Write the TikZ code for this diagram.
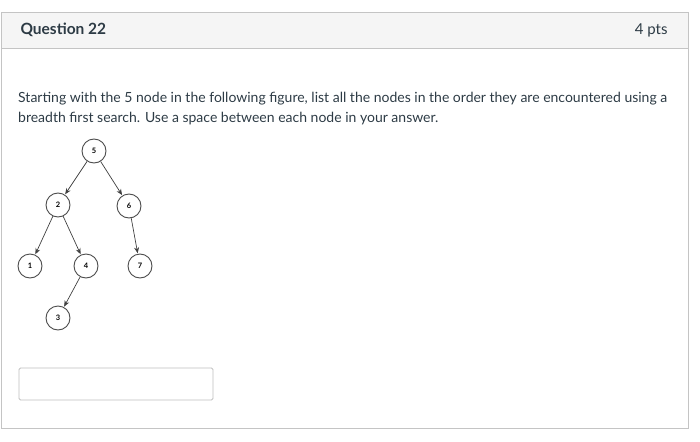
\documentclass[tikz,border=0pt]{standalone}
\usepackage{fontspec}
\setmainfont{Lato}
\usetikzlibrary{arrows.meta}
\definecolor{framegray}{HTML}{C4C4C4}
\definecolor{headgray}{HTML}{F5F5F5}
\definecolor{textgray}{HTML}{2D3B45}
\tikzset{
  vertex/.style={draw=black!70, line width=0.9pt, circle, minimum size=24pt, inner sep=0pt, font=\fontsize{7.5}{8}\selectfont\bfseries},
  edge/.style={-{Stealth[length=6pt,width=5pt]}, black!75, line width=0.7pt, shorten >=0.5pt}
}
\begin{document}
\begin{tikzpicture}[x=1pt,y=-1pt]
  \useasboundingbox (0,0) rectangle (700,441);

  % question frame and header
  \fill[headgray] (1,12) rectangle (688,48);
  \draw[framegray] (1,12) rectangle (688,428);
  \draw[framegray] (1,48) -- (688,48);
  \node[anchor=west, text=textgray, font=\fontsize{15.5}{18}\selectfont\bfseries] (title) at (17,30) {Question 22};
  \node[anchor=east, text=textgray, font=\fontsize{15}{18}\selectfont] (points) at (671,30) {4 pts};

  % question text
  \node[anchor=west, text=textgray, font=\fontsize{14}{16}\selectfont, inner sep=0pt] (line1) at (18,99)
    {Starting with the 5 node in the following figure, list all the nodes in the order they are encountered using a};
  \node[anchor=west, text=textgray, font=\fontsize{14}{16}\selectfont, inner sep=0pt] (line2) at (18,119)
    {breadth first search. Use a space between each node in your answer.};

  % the tree
  \node[vertex] (n5) at (94,151) {5};
  \node[vertex] (n2) at (58,205) {2};
  \node[vertex] (n6) at (129,206) {6};
  \node[vertex] (n1) at (30,266) {1};
  \node[vertex] (n4) at (86,266) {4};
  \node[vertex] (n7) at (140,266) {7};
  \node[vertex] (n3) at (58,318) {3};

  \foreach \a/\b in {n5/n2, n5/n6, n2/n1, n2/n4, n6/n7, n4/n3}
  \draw[edge] (\a) -- (\b);

  % answer box
  \draw[black!25, line width=0.8pt, rounded corners=1.5pt] (19,368) rectangle (213,400);

\end{tikzpicture}
\end{document}
